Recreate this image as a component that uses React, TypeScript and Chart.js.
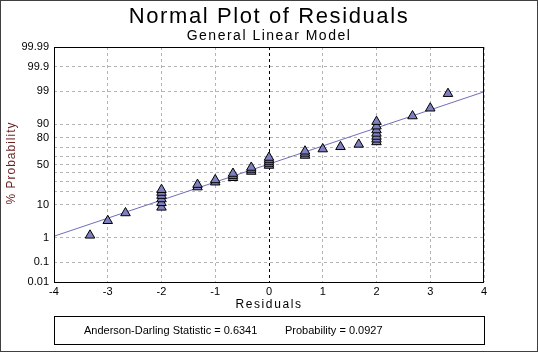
import React, { useEffect, useRef } from "react";
import { Chart, registerables } from "chart.js";

Chart.register(...registerables);

// Residuals (x) and % probability (y)
const residuals = [
  -3.33, -3.0, -2.67,
  -2.0, -2.0, -2.0, -2.0, -2.0, -2.0,
  -1.33, -1.33,
  -1.0, -1.0,
  -0.67, -0.67, -0.67,
  -0.33, -0.33, -0.33,
  0.0, 0.0, 0.0, 0.0, 0.0,
  0.67, 0.67, 0.67,
  1.0, 1.33, 1.67,
  2.0, 2.0, 2.0, 2.0, 2.0, 2.0, 2.0,
  2.67, 3.0, 3.33,
];
const probabilities = [
  1.25, 3.75, 6.25,
  8.75, 11.25, 13.75, 16.25, 18.75, 21.25,
  23.75, 26.25,
  28.75, 31.25,
  33.75, 36.25, 38.75,
  41.25, 43.75, 46.25,
  48.75, 51.25, 53.75, 56.25, 58.75,
  61.25, 63.75, 66.25,
  68.75, 71.25, 73.75,
  76.25, 78.75, 81.25, 83.75, 86.25, 88.75, 91.25,
  93.75, 96.25, 98.75,
];
// Fitted reference line end points
const fitX = [-4, 4];
const fitP = [1.16, 98.93];

const gridPercents = [0.01, 0.1, 1, 10, 20, 30, 40, 50, 60, 70, 80, 90, 99, 99.9, 99.99];
const gridLabels = ["0.01", "0.1", "1", "10", "", "", "", "50", "", "", "80", "90", "99", "99.9", "99.99"];
const xTicks = [-4, -3, -2, -1, 0, 1, 2, 3, 4];

const titleText = "Normal Plot of Residuals";
const subtitleText = "General Linear Model";
const xTitle = "Residuals";
const yTitle = "% Probability";
const statsLeft = "Anderson-Darling Statistic = 0.6341";
const statsRight = "Probability = 0.0927";

// inverse standard normal CDF (Acklam)
function zq(p: number): number {
  const a = [-3.969683028665376e1, 2.209460984245205e2, -2.759285104469687e2, 1.38357751867269e2, -3.066479806614716e1, 2.506628277459239];
  const b = [-5.447609879822406e1, 1.615858368580409e2, -1.556989798598866e2, 6.680131188771972e1, -1.328068155288572e1];
  const c = [-7.784894002430293e-3, -3.223964580411365e-1, -2.400758277161838, -2.549732539343734, 4.374664141464968, 2.938163982698783];
  const d = [7.784695709041462e-3, 3.224671290700398e-1, 2.445134137142996, 3.754408661907416];
  const pl = 0.02425;
  if (p < pl) {
    const q = Math.sqrt(-2 * Math.log(p));
    return (((((c[0] * q + c[1]) * q + c[2]) * q + c[3]) * q + c[4]) * q + c[5]) / ((((d[0] * q + d[1]) * q + d[2]) * q + d[3]) * q + 1);
  }
  if (p > 1 - pl) {
    const q = Math.sqrt(-2 * Math.log(1 - p));
    return -(((((c[0] * q + c[1]) * q + c[2]) * q + c[3]) * q + c[4]) * q + c[5]) / ((((d[0] * q + d[1]) * q + d[2]) * q + d[3]) * q + 1);
  }
  const q = p - 0.5;
  const r = q * q;
  return ((((((a[0] * r + a[1]) * r + a[2]) * r + a[3]) * r + a[4]) * r + a[5]) * q) / (((((b[0] * r + b[1]) * r + b[2]) * r + b[3]) * r + b[4]) * r + 1);
}

const FONT = "'Liberation Sans', Arial, sans-serif";

export default function App() {
  const ref = useRef<HTMLCanvasElement>(null);
  useEffect(() => {
    const canvas = ref.current!;
    const decor = {
      id: "decor",
      beforeDraw(chart: any) {
        const ctx = chart.ctx;
        ctx.save();
        ctx.fillStyle = "#fff";
        ctx.fillRect(0, 0, chart.width, chart.height);
        ctx.restore();
      },
      afterDraw(chart: any) {
        const ctx = chart.ctx;
        const a = chart.chartArea;
        ctx.save();
        // plot border
        ctx.strokeStyle = "#000";
        ctx.lineWidth = 1;
        ctx.setLineDash([]);
        ctx.strokeRect(Math.round(a.left) + 0.5, Math.round(a.top) + 0.5, Math.round(a.right - a.left) - 1, Math.round(a.bottom - a.top));
        // outer frame
        ctx.strokeStyle = "#404040";
        ctx.strokeRect(0.5, 0.5, chart.width - 1, chart.height - 1);
        // titles
        ctx.fillStyle = "#000";
        ctx.textAlign = "center";
        ctx.textBaseline = "alphabetic";
        ctx.font = `22px ${FONT}`;
        (ctx as any).letterSpacing = "1.6px";
        ctx.fillText(titleText, 269, 23);
        ctx.font = `14px ${FONT}`;
        (ctx as any).letterSpacing = "1.5px";
        ctx.fillText(subtitleText, 269, 40);
        ctx.font = `12px ${FONT}`;
        (ctx as any).letterSpacing = "1.6px";
        ctx.fillText(xTitle, 269, 308);
        ctx.save();
        ctx.translate(15, 163);
        ctx.rotate(-Math.PI / 2);
        ctx.fillStyle = "#6a1f1f";
        (ctx as any).letterSpacing = "1px";
        ctx.fillText(yTitle, 0, 0);
        ctx.restore();
        (ctx as any).letterSpacing = "0px";
        // stats box
        ctx.strokeStyle = "#000";
        ctx.strokeRect(54.5, 316.5, 430, 28);
        ctx.font = `11px ${FONT}`;
        ctx.textAlign = "left";
        ctx.textBaseline = "middle";
        ctx.fillText(statsLeft, 84, 331);
        ctx.fillText(statsRight, 285, 331);
        ctx.restore();
      },
    };

    const chart = new Chart(canvas, {
      type: "scatter",
      data: {
        datasets: [
          {
            type: "scatter",
            data: residuals.map((x, i) => ({ x, y: zq(probabilities[i] / 100) })),
            pointStyle: "triangle",
            pointRadius: 5.5,
            backgroundColor: "#8080c0",
            borderColor: "#000",
            borderWidth: 1,
            order: 0,
          },
          {
            type: "line",
            data: fitX.map((x, i) => ({ x, y: zq(fitP[i] / 100) })),
            borderColor: "#6f6fb8",
            borderWidth: 1,
            pointRadius: 0,
            showLine: true,
            order: 1,
          } as any,
        ],
      },
      options: {
        animation: false,
        responsive: false,
        devicePixelRatio: 1,
        events: [],
        layout: { padding: { left: 0, right: 54, top: 47, bottom: 0 } },
        plugins: { legend: { display: false }, tooltip: { enabled: false }, title: { display: false } },
        scales: {
          x: {
            type: "linear",
            min: -4,
            max: 4,
            afterFit(scale: any) {
              scale.height = 70;
            },
            afterBuildTicks(scale: any) {
              scale.ticks = xTicks.map((v) => ({ value: v }));
            },
            ticks: { font: { size: 11, family: FONT }, color: "#000", padding: 3, autoSkip: false, maxRotation: 0 },
            grid: {
              drawTicks: false,
              color: (c: any) => (c.tick && c.tick.value === 0 ? "#000" : "#b4b4b4"),
              lineWidth: 1,
            },
            border: { display: false, dash: [3, 3] },
          },
          y: {
            type: "linear",
            min: zq(0.0001),
            max: zq(0.9999),
            afterFit(scale: any) {
              scale.width = 54;
            },
            afterBuildTicks(scale: any) {
              scale.ticks = gridPercents.map((p) => ({ value: zq(p / 100) }));
            },
            ticks: {
              font: { size: 11, family: FONT },
              color: "#000",
              padding: 5,
              autoSkip: false,
              callback: (_v: any, i: number) => gridLabels[i],
            },
            grid: { drawTicks: false, color: "#b4b4b4", lineWidth: 1 },
            border: { display: false, dash: [3, 3] },
          },
        },
      },
      plugins: [decor],
    } as any);
    return () => chart.destroy();
  }, []);
  return (
    <div style={{ position: "fixed", left: 0, top: 0, width: 538, height: 352 }}>
      <canvas ref={ref} width={538} height={352} style={{ display: "block" }} />
    </div>
  );
}
